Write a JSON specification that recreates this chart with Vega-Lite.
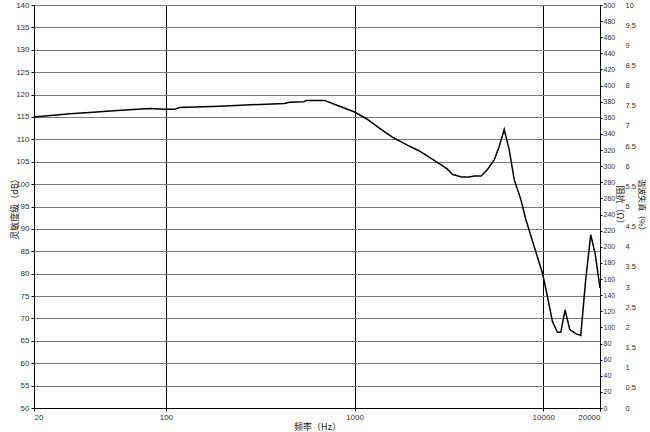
{
  "$schema": "https://vega.github.io/schema/vega-lite/v6.json",
  "autosize": "none",
  "padding": {"left": 34, "top": 5, "right": 50, "bottom": 24},
  "width": 566,
  "height": 403,
  "background": "white",
  "config": {
    "view": {"stroke": "#000", "strokeWidth": 1},
    "axis": {
      "labelFont": "Liberation Sans",
      "labelFontSize": 8,
      "labelColor": "#333",
      "titleFont": "Noto Sans CJK SC",
      "titleFontSize": 9,
      "titleFontWeight": "normal",
      "titleColor": "#222",
      "domainColor": "#000",
      "tickColor": "#000",
      "tickSize": 3,
      "labelPadding": 2
    }
  },
  "layer": [
    {
      "data": {
        "values": [
          {"freq": 20, "spl": 115.0},
          {"freq": 31, "spl": 115.7},
          {"freq": 39.5, "spl": 116.0},
          {"freq": 50.5, "spl": 116.3},
          {"freq": 64, "spl": 116.6},
          {"freq": 82, "spl": 116.9},
          {"freq": 99, "spl": 116.7},
          {"freq": 111, "spl": 116.7},
          {"freq": 118, "spl": 117.1},
          {"freq": 193, "spl": 117.4},
          {"freq": 314, "spl": 117.8},
          {"freq": 426, "spl": 118.0},
          {"freq": 452, "spl": 118.3},
          {"freq": 540, "spl": 118.4},
          {"freq": 556, "spl": 118.7},
          {"freq": 694, "spl": 118.7},
          {"freq": 832, "spl": 117.4},
          {"freq": 1000, "spl": 116.1},
          {"freq": 1156, "spl": 114.6},
          {"freq": 1354, "spl": 112.5},
          {"freq": 1586, "spl": 110.5},
          {"freq": 1882, "spl": 108.8},
          {"freq": 2204, "spl": 107.4},
          {"freq": 2582, "spl": 105.6},
          {"freq": 3100, "spl": 103.4},
          {"freq": 3296, "spl": 102.2},
          {"freq": 3680, "spl": 101.6},
          {"freq": 4056, "spl": 101.6},
          {"freq": 4308, "spl": 101.8},
          {"freq": 4692, "spl": 101.8},
          {"freq": 5050, "spl": 103.2},
          {"freq": 5498, "spl": 105.4},
          {"freq": 5844, "spl": 108.4},
          {"freq": 6212, "spl": 112.2},
          {"freq": 6602, "spl": 107.7},
          {"freq": 7020, "spl": 101.0},
          {"freq": 7608, "spl": 96.6},
          {"freq": 8092, "spl": 92.1},
          {"freq": 8954, "spl": 86.1},
          {"freq": 9910, "spl": 80.1},
          {"freq": 10530, "spl": 74.9},
          {"freq": 11194, "spl": 69.3},
          {"freq": 11892, "spl": 66.9},
          {"freq": 12392, "spl": 66.9},
          {"freq": 13056, "spl": 71.9},
          {"freq": 13836, "spl": 67.5},
          {"freq": 14868, "spl": 66.6},
          {"freq": 15814, "spl": 66.2},
          {"freq": 16800, "spl": 78.7},
          {"freq": 17860, "spl": 88.7},
          {"freq": 18832, "spl": 84.6},
          {"freq": 20000, "spl": 76.8}
        ]
      },
      "mark": {"type": "line", "color": "#000", "strokeWidth": 1.5, "clip": true},
      "encoding": {
        "x": {
          "field": "freq",
          "type": "quantitative",
          "scale": {"type": "log", "domain": [20, 20000], "nice": false},
          "axis": {
            "values": [20, 100, 1000, 10000, 20000],
            "format": "d",
            "title": "频率（Hz）",
            "titlePadding": 1,
            "grid": true,
            "gridColor": "#000",
            "gridOpacity": 1,
            "gridWidth": 1
          }
        },
        "y": {
          "field": "spl",
          "type": "quantitative",
          "scale": {"domain": [50, 140], "nice": false, "zero": false},
          "axis": {
            "orient": "left",
            "values": [50, 55, 60, 65, 70, 75, 80, 85, 90, 95, 100, 105, 110, 115, 120, 125, 130, 135, 140],
            "title": "灵敏度级（dB）",
            "titlePadding": -4,
            "grid": true,
            "gridColor": "#777",
            "gridOpacity": 1,
            "gridWidth": 1
          }
        }
      }
    },
    {
      "data": {"values": []},
      "mark": {"type": "point", "opacity": 0},
      "encoding": {
        "y": {
          "field": "imp",
          "type": "quantitative",
          "scale": {"domain": [0, 500], "nice": false},
          "axis": {
            "orient": "right",
            "values": [0, 20, 40, 60, 80, 100, 120, 140, 160, 180, 200, 220, 240, 260, 280, 300, 320, 340, 360, 380, 400, 420, 440, 460, 480, 500],
            "format": "d",
            "title": "阻抗（Ω）",
            "titlePadding": 0,
            "labelFontSize": 7,
            "tickSize": 2,
            "labelPadding": 1,
            "grid": false
          }
        }
      }
    },
    {
      "data": {"values": []},
      "mark": {"type": "point", "opacity": 0},
      "encoding": {
        "y": {
          "field": "thd",
          "type": "quantitative",
          "scale": {"domain": [0, 10], "nice": false},
          "axis": {
            "orient": "right",
            "offset": 22,
            "values": [0, 0.5, 1, 1.5, 2, 2.5, 3, 3.5, 4, 4.5, 5, 5.5, 6, 6.5, 7, 7.5, 8, 8.5, 9, 9.5, 10],
            "format": ".1~f",
            "title": "谐波失真（%）",
            "titlePadding": 1,
            "titleFontSize": 8,
            "labelFontSize": 7.5,
            "domain": false,
            "ticks": false,
            "labelPadding": 3,
            "grid": false
          }
        }
      }
    }
  ],
  "resolve": {"scale": {"y": "independent"}, "axis": {"y": "independent"}}
}
